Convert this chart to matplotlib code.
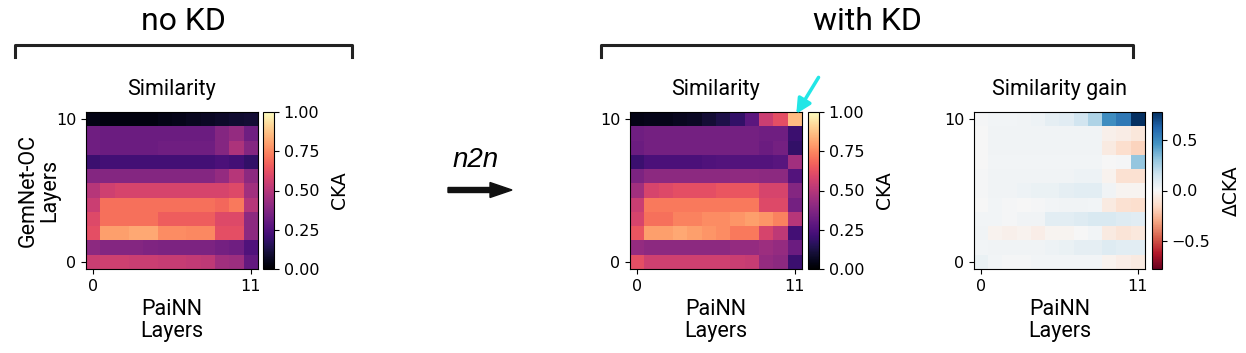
import matplotlib.pyplot as plt
import numpy as np

# CKA similarity, rows = GemNet-OC layers 0..10, cols = PaiNN layers 0..11
no_kd = np.array([
    [0.55, 0.56, 0.56, 0.55, 0.55, 0.54, 0.54, 0.53, 0.52, 0.45, 0.44, 0.30],  # 0
    [0.40, 0.38, 0.38, 0.38, 0.37, 0.36, 0.36, 0.36, 0.36, 0.34, 0.33, 0.25],  # 1
    [0.62, 0.80, 0.80, 0.82, 0.82, 0.76, 0.76, 0.75, 0.75, 0.62, 0.62, 0.40],  # 2
    [0.60, 0.70, 0.70, 0.70, 0.70, 0.66, 0.66, 0.66, 0.66, 0.60, 0.60, 0.40],  # 3
    [0.55, 0.70, 0.70, 0.70, 0.70, 0.70, 0.70, 0.70, 0.70, 0.68, 0.72, 0.50],  # 4
    [0.50, 0.56, 0.58, 0.58, 0.58, 0.58, 0.58, 0.58, 0.58, 0.58, 0.60, 0.45],  # 5
    [0.38, 0.38, 0.38, 0.38, 0.38, 0.38, 0.38, 0.38, 0.38, 0.42, 0.50, 0.40],  # 6
    [0.20, 0.22, 0.22, 0.22, 0.22, 0.22, 0.22, 0.22, 0.22, 0.24, 0.22, 0.18],  # 7
    [0.33, 0.32, 0.32, 0.32, 0.32, 0.33, 0.33, 0.33, 0.33, 0.38, 0.48, 0.38],  # 8
    [0.33, 0.32, 0.32, 0.32, 0.32, 0.32, 0.32, 0.32, 0.32, 0.38, 0.42, 0.33],  # 9
    [0.04, 0.03, 0.03, 0.03, 0.03, 0.04, 0.05, 0.06, 0.07, 0.08, 0.09, 0.10],  # 10
])

with_kd = np.array([
    [0.62, 0.56, 0.56, 0.56, 0.56, 0.56, 0.56, 0.55, 0.54, 0.42, 0.40, 0.20],  # 0
    [0.42, 0.40, 0.40, 0.40, 0.40, 0.40, 0.40, 0.42, 0.42, 0.44, 0.42, 0.32],  # 1
    [0.64, 0.80, 0.80, 0.82, 0.80, 0.78, 0.76, 0.72, 0.72, 0.58, 0.52, 0.22],  # 2
    [0.58, 0.70, 0.70, 0.74, 0.74, 0.76, 0.76, 0.78, 0.80, 0.78, 0.74, 0.50],  # 3
    [0.55, 0.72, 0.72, 0.72, 0.72, 0.72, 0.72, 0.72, 0.72, 0.60, 0.60, 0.34],  # 4
    [0.45, 0.58, 0.60, 0.62, 0.62, 0.62, 0.64, 0.64, 0.64, 0.58, 0.58, 0.38],  # 5
    [0.36, 0.40, 0.40, 0.40, 0.40, 0.40, 0.40, 0.41, 0.41, 0.40, 0.40, 0.26],  # 6
    [0.20, 0.24, 0.24, 0.24, 0.24, 0.25, 0.26, 0.26, 0.26, 0.26, 0.27, 0.45],  # 7
    [0.32, 0.34, 0.34, 0.34, 0.34, 0.34, 0.34, 0.34, 0.34, 0.32, 0.34, 0.18],  # 8
    [0.33, 0.34, 0.34, 0.34, 0.34, 0.34, 0.34, 0.34, 0.34, 0.33, 0.33, 0.20],  # 9
    [0.04, 0.05, 0.05, 0.06, 0.07, 0.10, 0.13, 0.18, 0.28, 0.55, 0.62, 0.86],  # 10
])

gain = np.array([
    [0.05, 0.02, 0.01, 0.01, 0.02, 0.02, 0.02, 0.02, 0.02, -0.03, -0.05, -0.07],  # 0
    [0.02, 0.03, 0.03, 0.03, 0.03, 0.04, 0.05, 0.07, 0.07, 0.10, 0.08, 0.08],     # 1
    [0.03, -0.03, -0.04, -0.03, -0.05, -0.02, -0.02, 0.00, 0.02, -0.07, -0.10, -0.08],  # 2
    [0.02, 0.02, 0.01, 0.03, 0.03, 0.08, 0.08, 0.10, 0.12, 0.12, 0.10, 0.09],     # 3
    [0.00, 0.02, 0.01, 0.00, 0.01, 0.02, 0.03, 0.03, 0.02, -0.07, -0.12, -0.13],  # 4
    [0.01, 0.03, 0.03, 0.04, 0.05, 0.05, 0.07, 0.08, 0.08, 0.03, -0.02, -0.02],   # 5
    [0.01, 0.03, 0.03, 0.03, 0.03, 0.03, 0.03, 0.04, 0.04, -0.03, -0.12, -0.12],  # 6
    [0.00, 0.02, 0.02, 0.02, 0.02, 0.02, 0.02, 0.02, 0.02, 0.00, 0.01, 0.30],     # 7
    [0.00, 0.03, 0.03, 0.03, 0.03, 0.03, 0.03, 0.03, 0.03, -0.07, -0.13, -0.17],  # 8
    [0.00, 0.03, 0.03, 0.03, 0.03, 0.03, 0.03, 0.03, 0.03, -0.04, -0.06, -0.09],  # 9
    [0.01, 0.02, 0.02, 0.03, 0.04, 0.07, 0.09, 0.15, 0.24, 0.48, 0.55, 0.77],     # 10
])

W, H = 1246, 353
fig = plt.figure(figsize=(W / 100, H / 100), dpi=100)


def px(x0, y0, x1, y1):
    return [x0 / W, 1 - y1 / H, (x1 - x0) / W, (y1 - y0) / H]


lab_font = dict(family='Roboto', fontsize=15.5)


def heat(rect, cbrect, data, cmap, vmin, vmax, cblabel, cbticks, ylabel=None):
    ax = fig.add_axes(px(*rect))
    im = ax.imshow(data, cmap=cmap, vmin=vmin, vmax=vmax, origin='lower',
                   aspect='auto', interpolation='nearest')
    ax.set_xticks([0, 11])
    ax.set_yticks([0, 10])
    ax.tick_params(labelsize=11.5)
    ax.set_xlabel('PaiNN\nLayers', linespacing=1.05, **lab_font)
    if ylabel:
        ax.set_ylabel(ylabel, linespacing=1.05, labelpad=-3, **lab_font)
    cax = fig.add_axes(px(*cbrect))
    cb = fig.colorbar(im, cax=cax, ticks=cbticks)
    cb.ax.tick_params(labelsize=11.5)
    cb.set_label(cblabel, fontsize=13.5, labelpad=8)
    return ax


ax1 = heat((86, 112, 258, 269), (263, 112, 274, 269), no_kd, 'magma', 0, 1,
           'CKA', [0, 0.25, 0.5, 0.75, 1.0], ylabel='GemNet-OC\nLayers')
ax1.set_title('Similarity', fontsize=15.5, family='Roboto', pad=12)

ax2 = heat((630, 112, 802, 269), (808, 112, 819, 269), with_kd, 'magma', 0, 1,
           'CKA', [0, 0.25, 0.5, 0.75, 1.0])
ax2.set_title('Similarity', fontsize=15.5, family='Roboto', pad=12)

lim = np.abs(gain).max()
ax3 = heat((974, 112, 1145, 269), (1152, 112, 1162, 269), gain, 'RdBu', -lim, lim,
           '\u0394CKA', [-0.5, 0, 0.5])
ax3.set_title('Similarity gain', fontsize=15.5, family='Roboto', pad=12)


# brackets and group headers
def bracket(x0, x1, label):
    y0, y1 = 1 - 45 / H, 1 - 57 / H
    fig.add_artist(plt.Line2D([x0 / W, x0 / W, x1 / W, x1 / W], [y1, y0, y0, y1],
                              color='#222222', lw=2.2, transform=fig.transFigure))
    fig.text((x0 + x1) / 2 / W, 1 - 22 / H, label, ha='center', va='center',
             fontsize=23, family='Roboto')


bracket(15, 352, 'no KD')
bracket(601, 1133, 'with KD')

# n2n arrow
fig.text(476 / W, 1 - 160 / H, 'n2n', ha='center', va='center', fontsize=20,
         family='Liberation Sans', style='italic')
fig.add_artist(plt.matplotlib.patches.FancyArrow(
    448 / W, 1 - 190 / H, 42 / W, 0, width=5 / H, head_width=15 / H,
    head_length=22 / W, color='#111111', transform=fig.transFigure))

# cyan pointer to the top-right cell
ax2.annotate('', xy=(11, 10.2), xytext=(820, H - 75), textcoords='figure pixels',
             arrowprops=dict(arrowstyle='-|>', color='#22e6e6', lw=2.5,
                             mutation_scale=22), annotation_clip=False)

fig.savefig('out.png', dpi=100)
